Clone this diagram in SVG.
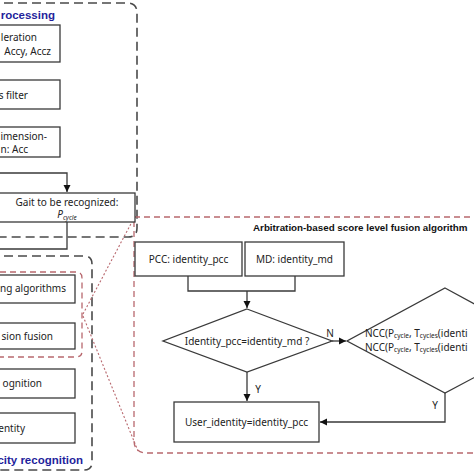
<svg xmlns="http://www.w3.org/2000/svg" width="474" height="474" viewBox="0 0 474 474">
<defs>
<marker id="ah" markerWidth="8" markerHeight="8" refX="7" refY="4" orient="auto" markerUnits="userSpaceOnUse">
<path d="M0,0.5 L7,4 L0,7.5 Z" fill="#111"/>
</marker>
<style>
.box{fill:#fff;stroke:#3a3a3a;stroke-width:1.3}
.ln{fill:none;stroke:#3a3a3a;stroke-width:1.3}
.grp{fill:none;stroke:#4a4a4a;stroke-width:1.6;stroke-dasharray:9 5}
.red{fill:none;stroke:#b8686e;stroke-width:1.3;stroke-dasharray:6 4}
.dot{fill:none;stroke:#b8686e;stroke-width:1.1;stroke-dasharray:2 2}
.t{font-family:"Noto Sans","Open Sans",sans-serif;font-size:10px;fill:#222}
.ttl{font-family:"Liberation Sans",Arial,sans-serif;font-size:11.5px;font-weight:bold;fill:#1f1f9c}
.bt{font-family:"Liberation Sans",Arial,sans-serif;font-size:9.8px;font-weight:bold;fill:#111}
.sub{font-size:6.5px}
</style>
</defs>
<rect width="474" height="474" fill="#fff"/>

<g id="group-preprocessing">
<path class="grp" d="M-10,3 H127 Q137,3 137,13 V228 Q137,237 128,237 H-10"/>
<text class="ttl" x="55" y="19" text-anchor="end">rocessing</text>
</g>

<g id="group-recognition">
<path class="grp" d="M-10,256 H84 Q92,256 92,264 V462 Q92,470 84,470 H-10"/>
<text class="ttl" x="83" y="464" text-anchor="end">city recognition</text>
</g>

<g id="group-fusion-inner">
<path class="red" d="M-10,272 H76 Q82,272 82,278 V351 Q82,357 76,357 H-10"/>
</g>

<g id="group-arbitration">
<path class="red" d="M490,217 H134 V440 Q134,453 147,453 H490"/>
<text class="bt" x="253" y="231">Arbitration-based score level fusion algorithm</text>
</g>

<g id="connectors">
<path class="dot" d="M83,314 L134,218"/>
<path class="dot" d="M83,316 L138,451"/>
<path class="ln" d="M-10,173 H67 V192" marker-end="url(#ah)"/>
<path class="ln" d="M67,222 V249 H-10"/>
<path class="ln" d="M188,276 V291 H295 V276"/>
<path class="ln" d="M247,291 V308" marker-end="url(#ah)"/>
<path class="ln" d="M332,341 H346" marker-end="url(#ah)"/>
<path class="ln" d="M247,372 V401" marker-end="url(#ah)"/>
<path class="ln" d="M445,392 V422 H320" marker-end="url(#ah)"/>
<text class="t" x="330" y="337" text-anchor="middle">N</text>
<text class="t" x="258" y="393" text-anchor="middle">Y</text>
<text class="t" x="435" y="409" text-anchor="middle">Y</text>
</g>

<g id="node-acceleration">
<rect class="box" x="-20" y="25" width="80" height="37"/>
<text class="t" x="37" y="41" text-anchor="end">leration</text>
<text class="t" x="51" y="55" text-anchor="end">Accy, Accz</text>
</g>

<g id="node-filter">
<rect class="box" x="-20" y="80" width="80" height="29"/>
<text class="t" x="28" y="98.5" text-anchor="end">s filter</text>
</g>

<g id="node-dimension">
<rect class="box" x="-20" y="127" width="80" height="30"/>
<text class="t" x="47" y="140" text-anchor="end">imension-</text>
<text class="t" x="28" y="152.5" text-anchor="end">n: Acc</text>
</g>

<g id="node-gait">
<rect class="box" x="-20" y="193" width="155" height="29"/>
<text class="t" x="67" y="205.5" text-anchor="middle">Gait to be recognized:</text>
<text class="t" x="67" y="218" text-anchor="middle" font-style="italic">P<tspan class="sub" dy="2">cycle</tspan></text>
</g>

<g id="node-algorithms">
<rect class="box" x="-20" y="275" width="95" height="28"/>
<text class="t" x="66" y="292" text-anchor="end">ng algorithms</text>
</g>

<g id="node-fusion">
<rect class="box" x="-20" y="323" width="95" height="26"/>
<text class="t" x="53" y="339.5" text-anchor="end">sion fusion</text>
</g>

<g id="node-recognition">
<rect class="box" x="-20" y="369" width="95" height="29"/>
<text class="t" x="42" y="387" text-anchor="end">ognition</text>
</g>

<g id="node-identity">
<rect class="box" x="-20" y="413" width="95" height="30"/>
<text class="t" x="25" y="431.5" text-anchor="end">entity</text>
</g>

<g id="node-pcc">
<rect class="box" x="135" y="242" width="107" height="34"/>
<text class="t" x="188.5" y="262.5" text-anchor="middle">PCC: identity_pcc</text>
</g>

<g id="node-md">
<rect class="box" x="245" y="242" width="99" height="34"/>
<text class="t" x="294.5" y="262.5" text-anchor="middle">MD: identity_md</text>
</g>

<g id="node-decision1">
<polygon class="box" points="247,309 332,341 247,372 163,341"/>
<text class="t" x="247" y="344.5" text-anchor="middle">Identity_pcc=identity_md ?</text>
</g>

<g id="node-decision2">
<polygon class="box" points="445,288 543,341 445,393 347,341"/>
<text class="t" x="365" y="336.5">NCC(P<tspan class="sub" dy="1.5">cycle</tspan><tspan dy="-1.5">, T</tspan><tspan class="sub" dy="1.5">cycles</tspan><tspan dy="-1.5">(identi</tspan></text>
<text class="t" x="365" y="350.5">NCC(P<tspan class="sub" dy="1.5">cycle</tspan><tspan dy="-1.5">, T</tspan><tspan class="sub" dy="1.5">cycles</tspan><tspan dy="-1.5">(identi</tspan></text>
</g>

<g id="node-user">
<rect class="box" x="174" y="402" width="145" height="40"/>
<text class="t" x="246.5" y="425.5" text-anchor="middle">User_identity=identity_pcc</text>
</g>
</svg>
